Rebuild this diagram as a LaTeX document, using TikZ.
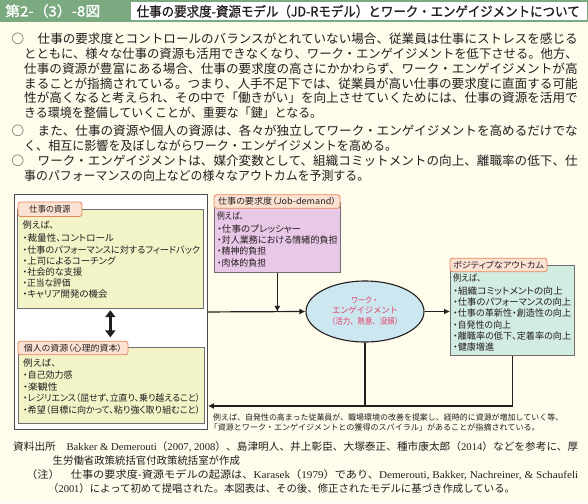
\documentclass[tikz,border=0pt]{standalone}
\usepackage{fontspec}
\usepackage{graphicx}
\setmainfont{Noto Sans CJK JP}
\newfontfamily\jp{Noto Sans CJK JP}
\newfontfamily\jpp[RawFeature=+palt]{Noto Sans CJK JP}
\newfontfamily\jpb[FakeBold=1]{Noto Sans CJK JP}
\newfontfamily\lser{Liberation Serif}
\usetikzlibrary{arrows.meta,shapes.geometric}
\newcommand\fitto[2]{\resizebox{#1}{\height}{#2}}
\definecolor{bgc}{RGB}{255,252,236}
\definecolor{hdrc}{RGB}{123,170,128}
\definecolor{resc}{RGB}{242,244,200}
\definecolor{tabc}{RGB}{251,226,210}
\definecolor{tabe}{RGB}{230,135,90}
\definecolor{jobc}{RGB}{233,199,230}
\definecolor{outc}{RGB}{211,236,226}
\definecolor{ellc}{RGB}{205,231,241}
\definecolor{ellt}{RGB}{228,58,98}
\definecolor{ink}{RGB}{35,30,30}
\definecolor{boxe}{RGB}{110,110,110}
\tikzset{
 panel/.style={draw=boxe, line width=0.7pt, anchor=north west, inner sep=0pt},
 tabbox/.style={draw=tabe, fill=tabc, line width=0.8pt, rounded corners=2.5pt, inner sep=0pt, font=\jpp\fontsize{8.6}{9}\selectfont, text=ink},
 ptxt/.style={anchor=base west, inner sep=0pt, font=\jp\fontsize{12.5}{14}\selectfont, text=ink},
 btxt/.style={anchor=base west, inner sep=0pt, font=\jpp\fontsize{9.2}{10}\selectfont, text=ink},
 ftxt/.style={anchor=base west, inner sep=0pt, font=\jp\fontsize{10.4}{12}\selectfont, text=ink},
 stxt/.style={anchor=base west, inner sep=0pt, font=\jp\fontsize{8}{9}\selectfont, text=ink},
 etxt/.style={anchor=base, inner sep=0pt, font=\jp\fontsize{8.3}{9}\selectfont, text=ellt},
 conn/.style={draw=ink, line width=1.2pt, -{Latex[length=6pt,width=6pt]}},
 plainline/.style={draw=ink, line width=1.2pt},
 dblarrow/.style={draw=ink, line width=3.6pt, {Triangle[length=7pt,width=10pt]}-{Triangle[length=7pt,width=10pt]}},
}
\begin{document}
\begin{tikzpicture}[x=1pt,y=-1pt]
\useasboundingbox (0,0) rectangle (588,503);
\fill[bgc] (0,0) rectangle (588,503);
% header
\node[fill=hdrc, anchor=north west, minimum width=588, minimum height=22, inner sep=0] (hdr) at (0,0) {};
\node[fill=white, anchor=north west, minimum width=456, minimum height=18, inner sep=0] (ttlbg) at (131,2) {};
\node[anchor=base west, inner sep=0, text=white, font=\jpb\fontsize{14}{16}\selectfont] (fig) at (5,16.3) {\fitto{95pt}{第2-（3）-8図}};
\node[anchor=base west, inner sep=0, text=ink, font=\jpb\fontsize{13.5}{16}\selectfont] (ttl) at (136.5,16.5) {\fitto{443pt}{仕事の要求度-資源モデル（JD-Rモデル）とワーク・エンゲイジメントについて}};
% paragraphs
\node[ptxt] (c1) at (11.5,43.75) {○};
\node[ptxt] (p1a) at (37.5,43.75) {\fitto{540pt}{仕事の要求度とコントロールのバランスがとれていない場合、従業員は仕事にストレスを感じる}};
\node[ptxt] (p1b) at (24,58.55) {\fitto{553.5pt}{とともに、様々な仕事の資源も活用できなくなり、ワーク・エンゲイジメントを低下させる。他方、}};
\node[ptxt] (p1c) at (24,73.35) {\fitto{553.5pt}{仕事の資源が豊富にある場合、仕事の要求度の高さにかかわらず、ワーク・エンゲイジメントが高}};
\node[ptxt] (p1d) at (24,88.15) {\fitto{553.5pt}{まることが指摘されている。つまり、人手不足下では、従業員が高い仕事の要求度に直面する可能}};
\node[ptxt] (p1e) at (24,102.95) {\fitto{553.5pt}{性が高くなると考えられ、その中で「働きがい」を向上させていくためには、仕事の資源を活用で}};
\node[ptxt] (p1f) at (24,117.75) {\fitto{298pt}{きる環境を整備していくことが、重要な「鍵」となる。}};
\node[ptxt] (c2) at (11.5,135.75) {○};
\node[ptxt] (p2a) at (37.5,135.75) {\fitto{540pt}{また、仕事の資源や個人の資源は、各々が独立してワーク・エンゲイジメントを高めるだけでな}};
\node[ptxt] (p2b) at (24,150.55) {\fitto{373pt}{く、相互に影響を及ぼしながらワーク・エンゲイジメントを高める。}};
\node[ptxt] (c3) at (11.5,165.75) {○};
\node[ptxt] (p3a) at (37.5,165.75) {\fitto{540pt}{ワーク・エンゲイジメントは、媒介変数として、組織コミットメントの向上、離職率の低下、仕}};
\node[ptxt] (p3b) at (24,180.55) {\fitto{345pt}{事のパフォーマンスの向上などの様々なアウトカムを予測する。}};
% panels
\node[panel, fill=white, draw=ink!80, line width=0.9pt, minimum width=193, minimum height=235] (outer) at (14,194) {};
\node[panel, fill=resc, minimum width=186, minimum height=99] (res) at (17,209) {};
\node[panel, fill=resc, minimum width=186, minimum height=76] (pers) at (18,347) {};
\node[panel, fill=jobc, minimum width=126, minimum height=70] (job) at (214,202) {};
\node[panel, fill=outc, minimum width=124, minimum height=90.5] (out) at (450,264.5) {};
\node[ellipse, draw=ink, line width=1.1pt, fill=ellc, minimum width=118, minimum height=61, inner sep=0] (ell) at (365,311.5) {};
% tabs
\node[tabbox, minimum width=64, minimum height=14.5] (t1) at (50,209.2) {\fitto{41pt}{仕事の資源}};
\node[tabbox, minimum width=110, minimum height=13.5] (t2) at (73,348) {\fitto{98pt}{個人の資源（心理的資本）}};
\node[tabbox, minimum width=126, minimum height=13.5] (t3) at (277,201.5) {\fitto{118pt}{仕事の要求度（Job-demand）}};
\node[tabbox, minimum width=97, minimum height=13.5] (t4) at (498.5,265) {\fitto{91pt}{ポジティブなアウトカム}};
% panel texts
\foreach \yy/\w/\t [count=\i] in {228.8/31.5/例えば、, 241.8/91.5/・裁量性、コントロール, 253.0/177.5/・仕事のパフォーマンスに対するフィードバック, 264.2/93/・上司によるコーチング, 275.4/59.5/・社会的な支援, 286.6/48/・正当な評価, 297.8/85/・キャリア開発の機会}
  \node[btxt] (res\i) at (22.5,\yy) {\fitto{\w pt}{\t}};
\foreach \yy/\w/\t [count=\i] in {366.8/33/例えば、, 378.8/49.5/・自己効力感, 390.3/34.5/・楽観性, 401.8/177/・レジリエンス（屈せず、立直り、乗り越えること）, 413.3/177/・希望（目標に向かって、粘り強く取り組むこと）}
  \node[btxt] (pers\i) at (23,\yy) {\fitto{\w pt}{\t}};
\foreach \yy/\w/\t [count=\i] in {219.3/26.5/例えば、, 232.6/84/・仕事のプレッシャー, 243.6/120.5/・対人業務における情緒的負担, 254.8/49/・精神的負担, 266.0/49/・肉体的負担}
  \node[btxt] (job\i) at (217,\yy) {\fitto{\w pt}{\t}};
\foreach \yy/\w/\t [count=\i] in {281.6/28/例えば、, 294.1/109.5/・組織コミットメントの向上, 305.4/118/・仕事のパフォーマンスの向上, 316.7/118/・仕事の革新性・創造性の向上, 328.0/58/・自発性の向上, 339.3/118/・離職率の低下、定着率の向上, 350.6/41/・健康増進}
  \node[btxt] (out\i) at (453,\yy) {\fitto{\w pt}{\t}};
% ellipse text
\node[etxt] (e1) at (365,303.1) {\fitto{28pt}{ワーク・}};
\node[etxt] (e2) at (365,313.6) {\fitto{66pt}{エンゲイジメント}};
\node[etxt] (e3) at (365,324.1) {\fitto{74pt}{（活力、熱意、没頭）}};
% connectors
\coordinate (fb) at (365,406);
\draw[conn] (outer.east) -- (ell.west);
\draw[conn] (job.south) -- (job.south |- outer.east);
\draw[conn] (ell.east) -- (out.west |- ell.east);
\draw[plainline] (ell.south) -- (ell.south |- fb);
\draw[conn] (out.south) -- (out.south |- fb) -- (fb -| outer.east);
\draw[dblarrow, shorten <=1.5pt, shorten >=3.5pt] (res.south) -- (res.south |- t2.north);
% note under loop
\node[stxt] (n1) at (213,420.5) {\fitto{350pt}{例えば、自発性の高まった従業員が、職場環境の改善を提案し、経時的に資源が増加していく等、}};
\node[stxt] (n2) at (209.5,430.5) {\fitto{330pt}{「資源とワーク・エンゲイジメントとの獲得のスパイラル」があることが指摘されている。}};
% footer
\node[ftxt] (f1) at (13,450.5) {\fitto{565pt}{資料出所　{\lser Bakker \& Demerouti}（{\lser 2007, 2008}）、島津明人、井上彰臣、大塚泰正、種市康太郎（{\lser 2014}）などを参考に、厚}};
\node[ftxt] (f2) at (52.5,464.5) {生労働省政策統括官付政策統括室が作成};
\node[ftxt] (f3) at (26,478.5) {\fitto{552pt}{（注）　仕事の要求度-資源モデルの起源は、{\lser Karasek}（{\lser 1979}）であり、{\lser Demerouti, Bakker, Nachreiner, \& Schaufeli}}};
\node[ftxt] (f4) at (48,492.5) {（{\lser 2001}）によって初めて提唱された。本図表は、その後、修正されたモデルに基づき作成している。};
\end{tikzpicture}
\end{document}
